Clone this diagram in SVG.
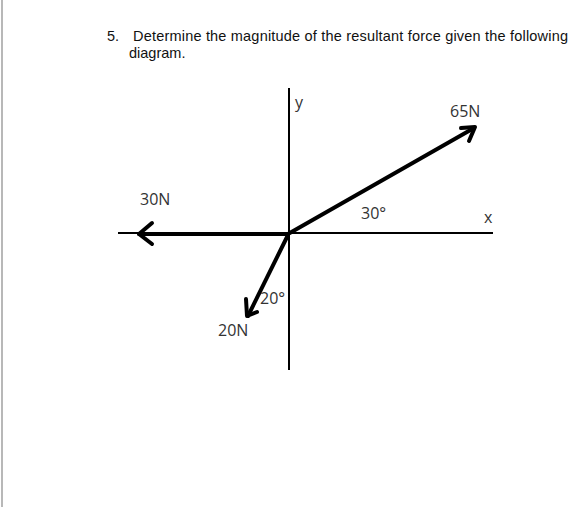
<svg xmlns="http://www.w3.org/2000/svg" width="572" height="507" viewBox="0 0 572 507">
<style>
.t{font-family:"Liberation Sans",Arial,sans-serif;fill:#111}
.l{font-family:"Open Sans","Liberation Sans",sans-serif;fill:#333;font-size:16px}
.ax{stroke:#000;stroke-width:2;fill:none}
.ar{stroke:#000;stroke-width:4;fill:none;stroke-linecap:round;stroke-linejoin:round}
</style>
<rect width="572" height="507" fill="#fff"/>
<line x1="2" y1="0" x2="2" y2="507" stroke="#b8b8b8" stroke-width="2"/>
<g id="title">
<text class="t" x="107" y="41" font-size="14.5">5.</text>
<text class="t" x="133" y="41" font-size="14.5" textLength="435">Determine the magnitude of the resultant force given the following</text>
<text class="t" x="129" y="58" font-size="14.5">diagram.</text>
</g>
<g id="axes">
<line class="ax" x1="289" y1="88" x2="289" y2="370"/>
<line class="ax" x1="118" y1="233" x2="493" y2="233"/>
<text class="l" x="295" y="108">y</text>
<text class="l" x="484" y="223">x</text>
</g>
<g id="connectors">
<g id="f30">
<line class="ar" x1="288" y1="234" x2="139" y2="234"/>
<polyline class="ar" points="152,223 139,234 152,244"/>
</g>
<g id="f65">
<line class="ar" x1="288" y1="234" x2="474" y2="128"/>
<polyline class="ar" points="461,128 475,127 469,141"/>
</g>
<g id="f20">
<line class="ar" x1="288" y1="235" x2="248" y2="316"/>
<polyline class="ar" points="246,299 247,316 257,312"/>
</g>
</g>
<g id="labels">
<text class="l" x="450" y="117">65N</text>
<text class="l" x="140" y="205">30N</text>
<text class="l" x="361" y="219">30°</text>
<text class="l" x="260" y="304">20°</text>
<text class="l" x="218" y="336">20N</text>
</g>
</svg>
